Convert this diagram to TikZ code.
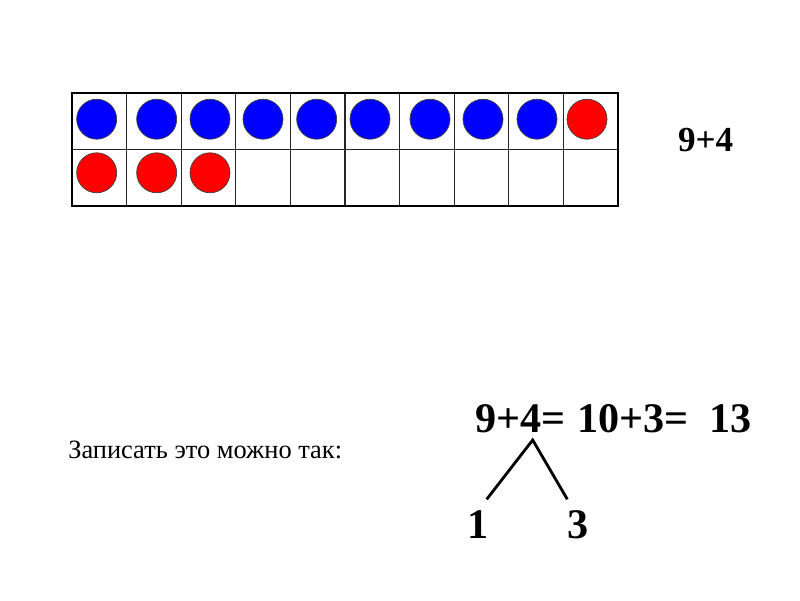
\documentclass[tikz,border=0pt]{standalone}
\usepackage{fontspec}
\setmainfont{Liberation Serif}
\usetikzlibrary{positioning}

\begin{document}
\begin{tikzpicture}[
  cellline/.style={black!85,line width=0.9pt},
  bluedot/.style={fill=blue,draw=black!75,line width=0.5pt},
  reddot/.style={fill=red,draw=black!75,line width=0.5pt},
  bignum/.style={font=\bfseries\fontsize{30}{36}\selectfont,inner sep=0pt,anchor=base west},
  branch/.style={black,line width=2pt}]
\useasboundingbox[fill=white] (0,0) rectangle (20,15);

% ten-frame
\draw[cellline] (1.8,11.26) -- (15.45,11.26);
\foreach \i in {1,...,9}
  \draw[cellline] (1.8+\i*1.365,9.85) -- (1.8+\i*1.365,12.675);
\draw[black,line width=1.7pt] (1.8,9.85) rectangle (15.45,12.675);

\draw[bluedot] (2.417,12.02) circle (0.5);
\draw[bluedot] (3.917,12.02) circle (0.5);
\draw[bluedot] (5.25,12.02) circle (0.5);
\draw[bluedot] (6.575,12.02) circle (0.5);
\draw[bluedot] (7.917,12.02) circle (0.5);
\draw[bluedot] (9.25,12.02) circle (0.5);
\draw[bluedot] (10.75,12.02) circle (0.5);
\draw[bluedot] (12.075,12.02) circle (0.5);
\draw[bluedot] (13.425,12.02) circle (0.5);
\draw[reddot] (14.675,12.02) circle (0.5);
\draw[reddot] (2.417,10.68) circle (0.5);
\draw[reddot] (3.917,10.68) circle (0.5);
\draw[reddot] (5.25,10.68) circle (0.5);

\node[font=\bfseries\fontsize{25}{30}\selectfont,inner sep=0pt,anchor=base] (task) at (17.64,11.2) {9+4};

% how to write it
\node[font=\fontsize{18.8}{22}\selectfont,inner sep=0pt,anchor=base west] (hint) at (1.7,3.54) {Записать это можно так:};

\node[bignum] (lhs) at (11.875,4.18) {9+4=};
\node[bignum] (mid) at (14.42,4.18) {10+3=};
\node[bignum] (res) at (17.74,4.18) {13};

\coordinate (apex) at (13.317,4.0);
\coordinate (leftend) at (12.167,2.517);
\coordinate (rightend) at (14.183,2.517);
\draw[branch] (leftend) -- (apex) -- (rightend);

\node[font=\bfseries\fontsize{30}{36}\selectfont,inner sep=0pt,anchor=base] (one) at (11.95,1.55) {1};
\node[font=\bfseries\fontsize{30}{36}\selectfont,inner sep=0pt,anchor=base] (three) at (14.45,1.55) {3};

\end{tikzpicture}
\end{document}
